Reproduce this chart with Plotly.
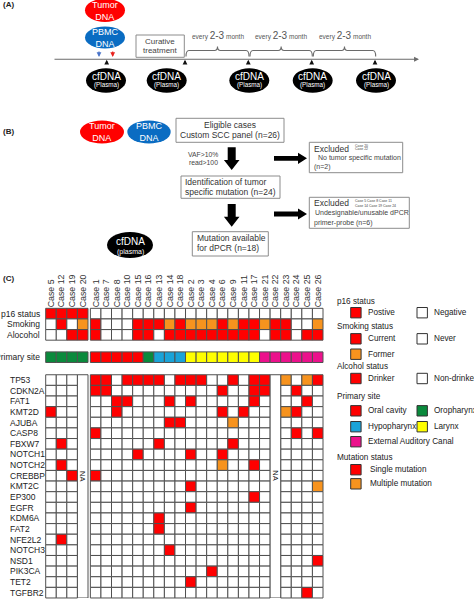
import plotly.graph_objects as go

W, H = 474, 599
FONT = "Arial, 'Liberation Sans', sans-serif"

RED = "#ff0000"
ORANGE = "#f7931e"
GREEN = "#0a8a3c"
BLUE = "#1aa3d8"
YELLOW = "#ffff00"
MAGENTA = "#ec118c"
GRID = "#505050"

# ---------------- panel C data ----------------
cases = ["Case 5", "Case 12", "Case 19", "Case 20",
         "Case 1", "Case 7", "Case 8", "Case 10", "Case 15", "Case 16",
         "Case 13", "Case 14", "Case 18", "Case 2", "Case 3", "Case 4",
         "Case 6", "Case 9", "Case 11", "Case 17",
         "Case 21", "Case 22", "Case 23", "Case 24", "Case 25", "Case 26"]

# 1 = positive / current / drinker, 2 = former, 0 = negative / never / non-drinker
p16_status = [1, 1, 1, 1, 0, 0, 0, 0, 0, 0, 0, 0, 0, 0, 0, 0, 0, 0, 0, 0, 0, 0, 0, 0, 0, 0]
smoking = [0, 1, 0, 2, 1, 0, 0, 0, 1, 1, 1, 2, 1, 2, 2, 2, 1, 2, 1, 1, 2, 1, 1, 0, 0, 2]
alcohol = [0, 0, 1, 1, 1, 0, 0, 0, 1, 1, 0, 1, 1, 1, 1, 1, 1, 1, 1, 1, 0, 1, 1, 0, 1, 1]

primary_site = ["Oropharynx", "Oropharynx", "Oropharynx", "Oropharynx",
                "Oral cavity", "Oral cavity", "Oral cavity", "Oral cavity", "Oral cavity",
                "Oropharynx", "Hypopharynx", "Hypopharynx", "Hypopharynx",
                "Larynx", "Larynx", "Larynx", "Larynx", "Larynx", "Larynx", "Larynx",
                "External Auditory Canal", "External Auditory Canal", "External Auditory Canal",
                "External Auditory Canal", "External Auditory Canal", "External Auditory Canal"]

genes = ["TP53", "CDKN2A", "FAT1", "KMT2D", "AJUBA", "CASP8", "FBXW7", "NOTCH1",
         "NOTCH2", "CREBBP", "KMT2C", "EP300", "EGFR", "KDM6A", "FAT2", "NFE2L2",
         "NOTCH3", "NSD1", "PIK3CA", "TET2", "TGFBR2"]

# 1 = single mutation, 2 = multiple mutation
mutations = {
    "TP53": {"Case 1": 1, "Case 7": 1, "Case 10": 1, "Case 15": 1, "Case 16": 1, "Case 13": 1,
             "Case 18": 1, "Case 2": 1, "Case 3": 1, "Case 9": 1, "Case 17": 1, "Case 21": 1,
             "Case 23": 2, "Case 25": 2, "Case 26": 1},
    "CDKN2A": {"Case 1": 1, "Case 7": 1, "Case 6": 1, "Case 17": 1, "Case 21": 1, "Case 24": 1},
    "FAT1": {"Case 8": 1, "Case 10": 1, "Case 14": 1, "Case 2": 1, "Case 17": 1, "Case 25": 1},
    "KMT2D": {"Case 5": 1, "Case 8": 1, "Case 6": 1, "Case 11": 1, "Case 23": 2, "Case 24": 1},
    "AJUBA": {"Case 14": 1, "Case 18": 1, "Case 9": 2},
    "CASP8": {"Case 1": 1, "Case 24": 1, "Case 26": 1},
    "FBXW7": {"Case 12": 1, "Case 13": 1, "Case 9": 1},
    "NOTCH1": {"Case 15": 1, "Case 2": 1, "Case 6": 1},
    "NOTCH2": {"Case 12": 1, "Case 6": 2, "Case 17": 1},
    "CREBBP": {"Case 19": 1, "Case 1": 1},
    "KMT2C": {"Case 2": 1, "Case 26": 2},
    "EP300": {"Case 17": 1},
    "EGFR": {"Case 2": 1},
    "KDM6A": {"Case 13": 1},
    "FAT2": {"Case 13": 1},
    "NFE2L2": {"Case 12": 1},
    "NOTCH3": {"Case 14": 1},
    "NSD1": {"Case 26": 1},
    "PIK3CA": {"Case 4": 1},
    "TET2": {"Case 2": 1},
    "TGFBR2": {"Case 25": 1},
}
na_cases = ["Case 20", "Case 22"]

status_colors = {0: "white", 1: RED, 2: ORANGE}
site_colors = {"Oral cavity": RED, "Oropharynx": GREEN, "Hypopharynx": BLUE,
               "Larynx": YELLOW, "External Auditory Canal": MAGENTA}

shapes = []
annotations = []


def text(x, y, s, size, color="#333333", anchor="center", ref=("x", "y"), angle=0):
    annotations.append(dict(x=x, y=y, xref=ref[0], yref=ref[1], text=s, showarrow=False,
                            xanchor=anchor, yanchor="middle", textangle=angle,
                            font=dict(size=size, color=color, family=FONT)))


def ellipse(cx, cy, rx, ry, color):
    shapes.append(dict(type="circle", xref="x", yref="y", x0=cx - rx, x1=cx + rx,
                       y0=cy - ry, y1=cy + ry, fillcolor=color, line=dict(width=0)))


def box(x0, y0, x1, y1, color="#8c8c8c"):
    shapes.append(dict(type="rect", xref="x", yref="y", x0=x0, x1=x1, y0=y0, y1=y1,
                       line=dict(color=color, width=1), fillcolor="white"))


def arrow(x, y, ax, ay, color, width=1.2, head=2, size=1):
    annotations.append(dict(x=x, y=y, ax=ax, ay=ay, xref="x", yref="y", axref="x", ayref="y",
                            text="", showarrow=True, arrowhead=head, arrowsize=size,
                            arrowwidth=width, arrowcolor=color, standoff=0))


def path(d, color="black"):
    shapes.append(dict(type="path", xref="x", yref="y", path=d, fillcolor=color,
                       line=dict(width=0)))


# ---------------- panel A ----------------
text(1, 4, "<b>(A)</b>", 8, "#222", "left")
ellipse(105, 10.3, 20, 11.6, RED)
text(105, 11.3, "Tumor<br>DNA", 9, "white")
ellipse(105, 37.5, 20, 11, "#0a6cc2")
text(105, 37.5, "PBMC<br>DNA", 9, "white")
arrow(99, 57, 99, 50, "#4a74c9", 1.2, 2, 0.8)
arrow(112.7, 57, 112.7, 50, "#e8221e", 1.2, 2, 0.8)

arrow(419, 59.3, 53, 59.3, "#6b6b6b", 1.1, 2, 0.9)
box(136, 35, 184.3, 57.3)
text(160.2, 41.7, "Curative", 8, "#444")
text(160.2, 50.7, "treatment", 8, "#444")

for xa in [106.7, 185, 248.3, 311.7, 375]:
    arrow(xa, 59.8, xa, 65.5, "#111", 1.2, 2, 0.8)

for cx in [106, 166.7, 249.3, 312.7, 376]:
    ellipse(cx, 80.5, 20, 12.2, "black")
    text(cx, 76.3, "cfDNA", 10, "white")
    text(cx, 85.2, "(Plasma)", 6.3, "white")

for x0, x1 in [(186, 249), (250, 312.3), (313.3, 375.7)]:
    xm = (x0 + x1) / 2
    shapes.append(dict(type="path", xref="x", yref="y",
                       path=(f"M{x0},56.5 Q{x0},50.5 {x0 + 3},50.5 L{xm - 3},50.5 "
                             f"Q{xm},50.5 {xm},46.5 Q{xm},50.5 {xm + 3},50.5 "
                             f"L{x1 - 3},50.5 Q{x1},50.5 {x1},56.5"),
                       line=dict(color="#6b6b6b", width=1.1)))
    text(xm, 35.5, "every <span style='font-size:10px'>2-3</span> month", 6.5, "#555")

# ---------------- panel B ----------------
text(1, 131.7, "<b>(B)</b>", 8, "#222", "left")
ellipse(102, 132, 22, 11.5, RED)
text(102, 132, "Tumor<br>DNA", 9, "white")
ellipse(149, 132, 21.7, 11.5, "#0a6cc2")
text(149, 132, "PBMC<br>DNA", 9, "white")

box(176, 118.3, 284, 142.3)
text(230, 125, "Eligible cases", 8.5)
text(230, 135, "Custom SCC panel (n=26)", 8.5)
text(186, 154.3, "VAF>10%", 6.8, "#444", "left")
text(186.5, 162.3, "read>100", 6.8, "#444", "left")

box(309.3, 142.3, 402.7, 172.7)
text(311.5, 148.5, "Excluded", 8.5, "#333", "left")
text(353, 145.6, "Case 20", 3.5, "#444", "left")
text(353, 149.2, "Case 22", 3.5, "#444", "left")
text(315.5, 158.3, "No tumor specific mutation", 7, "#444", "left")
text(311.5, 166.7, "(n=2)", 7, "#444", "left")

box(181, 176, 280, 198.3)
text(183, 181.7, "Identification of tumor", 8.5, "#333", "left")
text(183, 191.7, "specific mutation (n=24)", 8.5, "#333", "left")

box(309.3, 197.3, 409.3, 228.3)
text(311.5, 203.3, "Excluded", 8.5, "#333", "left")
text(353, 201, "Case 5 Case 8 Case 11", 3.5, "#444", "left")
text(353, 206.3, "Case 14 Case 19 Case 24", 3.5, "#444", "left")
text(313, 213.3, "Undesignable/unusable dPCR", 7, "#444", "left")
text(311.5, 222.7, "primer-probe (n=6)", 7, "#444", "left")

box(192.3, 231.7, 268.3, 256)
text(194.5, 237.5, "Mutation available", 8.5, "#333", "left")
text(194.5, 248, "for dPCR (n=18)", 8.5, "#333", "left")

ellipse(130, 245, 23, 13, "black")
text(130, 241, "cfDNA", 10, "white")
text(130, 251.5, "(plasma)", 7, "white")

for y0 in [147.3, 204]:
    path(f"M227.7,{y0} L235.7,{y0} L235.7,{y0 + 12.7} L239.5,{y0 + 12.7} "
         f"L231.7,{y0 + 22.7} L223.9,{y0 + 12.7} L227.7,{y0 + 12.7} Z")
for yc in [158.3, 214]:
    path(f"M274,{yc - 2.4} L298,{yc - 2.4} L298,{yc - 5.6} L307,{yc} "
         f"L298,{yc + 5.6} L298,{yc + 2.4} L274,{yc + 2.4} Z")

text(1, 278.3, "<b>(C)</b>", 8, "#222", "left")

# ---------------- panel C heatmap ----------------
col_x = [i + (0.225 if i >= 4 else 0) for i in range(len(cases))]
status_rows = [("p16 status", p16_status), ("Smoking", smoking), ("Alocohol", alcohol)]
site_y = 4.1
gene_y0 = 6.25

xs, ys, cs = [], [], []
for r, (label, vals) in enumerate(status_rows):
    for x, v in zip(col_x, vals):
        xs.append(x)
        ys.append(r)
        cs.append(status_colors[v])
    text(42.3 / W, r, label, 8.5, "#222", "right", ("paper", "y2"))

for x, s in zip(col_x, primary_site):
    xs.append(x)
    ys.append(site_y)
    cs.append(site_colors[s])
text(41.5 / W, site_y, "Primary site", 8.5, "#222", "right", ("paper", "y2"))

for j, g in enumerate(genes):
    y = gene_y0 + j
    for x, c in zip(col_x, cases):
        if c in na_cases:
            continue
        xs.append(x)
        ys.append(y)
        cs.append(status_colors[mutations[g].get(c, 0)])
    text(7.5 / W, y, g, 8.5, "#222", "left", ("paper", "y2"))

for c in na_cases:
    xc = col_x[cases.index(c)]
    shapes.append(dict(type="rect", xref="x2", yref="y2", x0=xc - 0.5, x1=xc + 0.5,
                       y0=gene_y0 - 0.5, y1=gene_y0 + len(genes) - 0.5,
                       line=dict(color=GRID, width=1), fillcolor="white"))
    text(xc, gene_y0 + 9, "NA", 7.5, "#222", "center", ("x2", "y2"), 90)

# ---------------- legend ----------------
legend_heads = [("p16 status", 301), ("Smoking status", 326), ("Alcohol status", 366),
                ("Primary site", 396), ("Mutation status", 457.5)]
legend_items = [("Postive", RED, 1, 312.7), ("Negative", "white", 2, 312.7),
                ("Current", RED, 1, 338.8), ("Never", "white", 2, 338.8),
                ("Former", ORANGE, 1, 354.2),
                ("Drinker", RED, 1, 378.5), ("Non-drinker", "white", 2, 378.5),
                ("Oral cavity", RED, 1, 410.8), ("Oropharynx", GREEN, 2, 410.8),
                ("Hypopharynx", BLUE, 1, 426.7), ("Larynx", YELLOW, 2, 426.7),
                ("External Auditory Canal", MAGENTA, 1, 441.7),
                ("Single mutation", RED, 1, 469.7), ("Multiple mutation", ORANGE, 1, 483.8)]
for label, y in legend_heads:
    text(334.5, y, label, 8.2, "#222", "left")
for label, color, col, y in legend_items:
    x0 = 350.7 if col == 1 else 417
    shapes.append(dict(type="rect", xref="x", yref="y", x0=x0, x1=x0 + 10.4,
                       y0=y - 5.2, y1=y + 5.2, fillcolor=color,
                       line=dict(color="#333", width=1)))
    tx = x0 + 15 if y < 460 else x0 + 17
    text(tx, y, label, 8.2, "#222", "left")

fig = go.Figure()
fig.add_trace(go.Scatter(
    x=xs, y=ys, xaxis="x2", yaxis="y2", mode="markers",
    marker=dict(symbol="square", size=10.6, color=cs, line=dict(color=GRID, width=1)),
    hoverinfo="skip", showlegend=False, cliponaxis=False))

fig.update_layout(
    width=W, height=H,
    margin=dict(l=0, r=0, t=0, b=0),
    paper_bgcolor="white", plot_bgcolor="rgba(0,0,0,0)",
    showlegend=False,
    font=dict(family=FONT),
    xaxis=dict(range=[0, W], domain=[0, 1], visible=False, fixedrange=True),
    yaxis=dict(range=[H, 0], domain=[0, 1], visible=False, fixedrange=True),
    xaxis2=dict(domain=[45.7 / W, 323 / W], range=[-0.5, 25.725], anchor="y2", side="top",
                tickvals=col_x, ticktext=cases, tickangle=-90, ticks="",
                tickfont=dict(size=8.8, color="#333", family=FONT),
                showgrid=False, zeroline=False, showline=False, fixedrange=True),
    yaxis2=dict(domain=[1 - 598 / H, 1 - 308.3 / H], range=[26.75, -0.5], anchor="x2",
                visible=False, fixedrange=True),
    shapes=shapes,
    annotations=annotations,
)

fig.write_html("out.html", config={"displayModeBar": False},
               post_script="document.body.style.margin='0';")
